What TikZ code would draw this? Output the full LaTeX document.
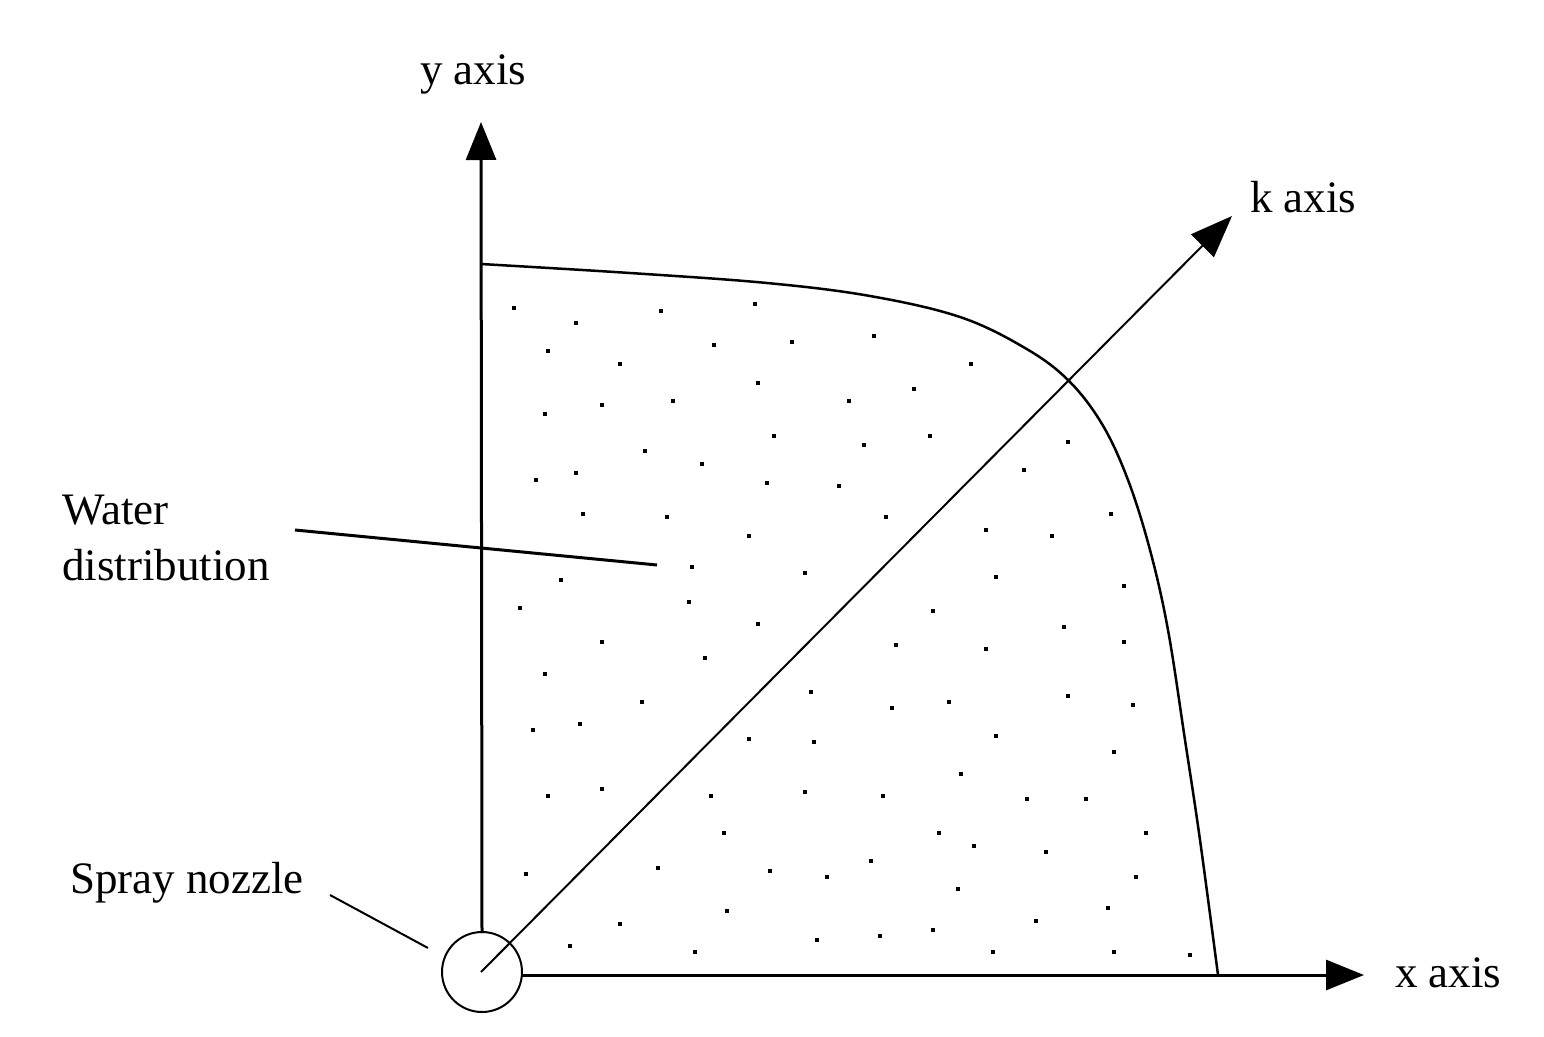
\documentclass[tikz,border=0pt]{standalone}
\usepackage{fontspec}
\setmainfont{Liberation Serif}
\usetikzlibrary{arrows.meta}
\begin{document}
\begin{tikzpicture}[x=1pt,y=-1pt,
  lbl/.style={font=\fontsize{45}{52}\selectfont, inner sep=0pt, anchor=base west},
  axisline/.style={line width=3pt},
  thinline/.style={line width=2pt},
  dotmark/.style={fill=black},
  bigtip/.style={-{Triangle[length=38pt,width=30pt]}}
]
\useasboundingbox (0,0) rectangle (1544,1036);
% nozzle
\node[draw, circle, line width=2pt, minimum size=80pt, inner sep=0pt] (noz) at (482,972) {};
\coordinate (o) at (481,972);
\coordinate (ytip) at (481,122);
\coordinate (xtip) at (1364,975);
\coordinate (ktip) at (1232,216);
% axes
\draw[axisline, bigtip] (noz.north |- 0,933) -- (ytip);
\draw[axisline, bigtip] (522,975) -- (xtip);
\draw[thinline, -{Triangle[length=42pt,width=32pt]}] (o) -- (ktip);
% labels
\node[lbl] (ylab) at (420,84) {y axis};
\node[lbl] (klab) at (1250,212) {k axis};
\node[lbl] (xlab) at (1395,987) {x axis};
\node[lbl] (wlab1) at (62,524) {Water};
\node[lbl] (wlab2) at (62,580) {distribution};
\node[lbl] (slab) at (70,893) {Spray nozzle};
% leader lines
\coordinate (sl1) at (330,895);
\coordinate (sl2) at (428,948);
\draw[thinline] (sl1) -- (sl2);
\coordinate (wl1) at (295,530);
\coordinate (wl2) at (657,565);
\draw[axisline] (wl1) -- (wl2);
% boundary curve
\draw[line width=2.5pt] plot[smooth, tension=0.6] coordinates {(481,264) (630,273) (767,283) (870,296) (960,317) (1025,348) (1068,380) (1102,424) (1128,480) (1150,550) (1168,630) (1185,740) (1200,840) (1218,975)};
% dots
\foreach \p in {(514,308),(576,323),(661,311),(755,304),(548,351),(620,364),(714,345),(792,342),(758,383),(545,414),(602,405),(673,401),(849,401),(774,436),(645,451),(702,464),(536,480),(576,473),(767,483),(839,486),(583,514),(667,517),
(874,336),(971,364),(914,389),(930,436),(864,445),(1068,442),(1024,470),(886,517),(1111,514),
(749,536),(692,567),(805,573),(561,580),(520,608),(689,602),(758,624),(602,642),(705,658),(545,674),(811,692),(642,702),(580,724),(533,730),(749,739),(814,742),
(986,530),(1052,536),(996,577),(1124,586),(933,611),(1064,627),(896,645),(986,649),(1124,642),(949,702),(1068,696),(892,708),(1133,705),(996,736),
(548,796),(602,789),(711,796),(805,792),(724,833),(526,874),(658,868),(770,871),(827,877),(727,911),(620,924),(817,940),(570,946),(695,952),
(1114,752),(961,774),(883,796),(1027,799),(1086,799),(939,833),(974,846),(1046,852),(871,861),(1146,833),(1136,877),(958,889),(1108,908),(1036,921),(880,936),(933,930),(993,952),(1114,952),(1190,955)}
  \fill[dotmark] \p ++(-1.75,-1.75) rectangle ++(3.5,3.5);
\end{tikzpicture}
\end{document}
